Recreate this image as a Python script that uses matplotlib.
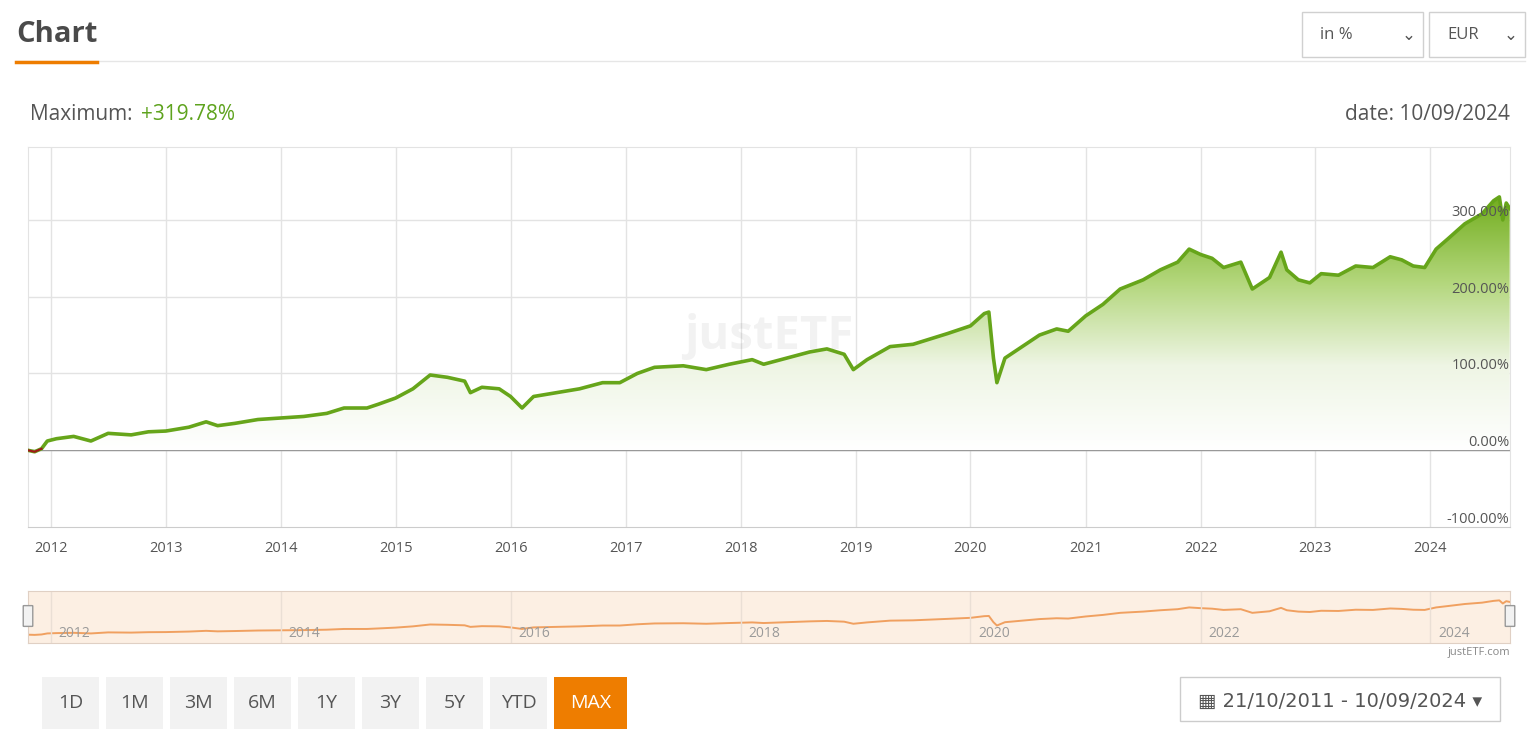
import numpy as np
import matplotlib.pyplot as plt
from matplotlib.patches import Rectangle, FancyBboxPatch
from matplotlib.colors import LinearSegmentedColormap
import matplotlib.dates as mdates
import datetime as dt

plt.rcParams['font.family'] = ['Open Sans', 'DejaVu Sans']

# performance in % (decimal year, value)
years = [2011.80, 2011.86, 2011.92, 2011.97, 2012.05, 2012.2, 2012.35, 2012.5, 2012.7, 2012.85,
         2013.0, 2013.2, 2013.35, 2013.45, 2013.6, 2013.8, 2014.0, 2014.2, 2014.4, 2014.55,
         2014.75, 2014.85, 2015.0, 2015.15, 2015.3, 2015.45, 2015.6, 2015.65, 2015.75, 2015.9,
         2016.0, 2016.1, 2016.2, 2016.4, 2016.6, 2016.8, 2016.95, 2017.1, 2017.25, 2017.5,
         2017.7, 2017.9, 2018.1, 2018.2, 2018.4, 2018.6, 2018.75, 2018.9, 2018.98, 2019.1,
         2019.3, 2019.5, 2019.65, 2019.8, 2020.0, 2020.12, 2020.16, 2020.2, 2020.23, 2020.3,
         2020.45, 2020.6, 2020.75, 2020.85, 2021.0, 2021.15, 2021.3, 2021.5, 2021.65, 2021.8,
         2021.9, 2022.0, 2022.1, 2022.2, 2022.35, 2022.45, 2022.6, 2022.7, 2022.75, 2022.85,
         2022.95, 2023.05, 2023.2, 2023.35, 2023.5, 2023.65, 2023.75, 2023.85, 2023.95, 2024.05,
         2024.15, 2024.3, 2024.45, 2024.55, 2024.6, 2024.63, 2024.66, 2024.69]
perf = [0, -2, 2, 12, 15, 18, 12, 22, 20, 24,
        25, 30, 37, 32, 35, 40, 42, 44, 48, 55,
        55, 60, 68, 80, 98, 95, 90, 75, 82, 80,
        70, 55, 70, 75, 80, 88, 88, 100, 108, 110,
        105, 112, 118, 112, 120, 128, 132, 125, 105, 118,
        135, 138, 145, 152, 162, 178, 180, 120, 88, 120,
        135, 150, 158, 155, 175, 190, 210, 222, 235, 245,
        262, 255, 250, 238, 245, 210, 225, 258, 235, 222,
        218, 230, 228, 240, 238, 252, 248, 240, 238, 262,
        275, 295, 308, 325, 330, 300, 322, 315]

nav_ticks = [2012, 2014, 2016, 2018, 2020, 2022, 2024]
main_ticks = list(range(2012, 2025))
y_ticks = [-100, 0, 100, 200, 300]

W, H = 1536, 750
fig = plt.figure(figsize=(W / 100, H / 100), dpi=100)
fig.patch.set_facecolor('white')

def fx(x):
    return x / W

def fy(y):
    return 1 - y / H

grey = '#555555'
orange = '#ee7d00'
green_line = '#66a51a'

# header
fig.text(fx(16), fy(34), 'Chart', fontsize=21, fontweight='bold', color='#4a4a4a', va='center')
fig.add_artist(plt.Line2D([fx(16), fx(1525)], [fy(61), fy(61)], color='#e6e6e6', lw=1))
fig.add_artist(plt.Line2D([fx(16), fx(97)], [fy(62), fy(62)], color=orange, lw=2.5))
for x0, x1, lab in [(1302, 1423, 'in %'), (1429, 1525, 'EUR')]:
    fig.add_artist(Rectangle((fx(x0), fy(57)), fx(x1 - x0), fy(12) - fy(57), fill=False,
                             ec='#d0d0d0', lw=1, transform=fig.transFigure))
    fig.text(fx(x0 + 18), fy(35), lab, fontsize=12, color=grey, va='center')
    fig.text(fx(x1 - 14), fy(35), '⌄', fontsize=12, color=grey, va='center', ha='center',
             family=['DejaVu Sans'])

fig.text(fx(30), fy(115), 'Maximum:', fontsize=15, color=grey, va='center')
fig.text(fx(141), fy(115), '+319.78%', fontsize=15, color='#5ea31e', va='center')
fig.text(fx(1510), fy(115), 'date: 10/09/2024', fontsize=15, color=grey, va='center', ha='right')

def to_date(y):
    yr = int(y)
    return dt.datetime(yr, 1, 1) + dt.timedelta(days=(y - yr) * 365.25)

dates = [to_date(y) for y in years]
xd = mdates.date2num(dates)
x_lo = mdates.date2num(dt.datetime(2011, 10, 21))
x_hi = mdates.date2num(dt.datetime(2024, 9, 10))

# main chart
ax = fig.add_axes([fx(28), fy(527), fx(1510 - 28), fy(147) - fy(527)])
ax.set_xlim(x_lo, x_hi)
ax.set_ylim(-100, 395)
for t in main_ticks:
    ax.axvline(mdates.date2num(dt.datetime(t, 1, 1)), color='#e3e3e3', lw=1, zorder=0)
for v in y_ticks[1:]:
    ax.axhline(v, color='#e3e3e3', lw=1, zorder=0)
ax.axhline(0, color='#999999', lw=1, zorder=1)

# gradient fill under the curve
grad = np.linspace(0, 1, 256).reshape(-1, 1)
cmap = LinearSegmentedColormap.from_list('g', ['#ffffff', '#eef5e4', '#b2d67a', '#72ad1e'])
img = ax.imshow(grad, aspect='auto', cmap=cmap, origin='lower',
                extent=[x_lo, x_hi, 0, 330], zorder=1)
poly = ax.fill_between(xd, perf, 0, color='none')
img.set_clip_path(poly.get_paths()[0], transform=ax.transData)
ax.plot(xd, perf, color=green_line, lw=2.6, zorder=3)
ax.plot(xd[:3], perf[:3], color='#a01818', lw=1.5, zorder=4)

ax.text(0.5, 0.5, 'justETF', transform=ax.transAxes, fontsize=34, color='#000000', alpha=0.05,
        ha='center', va='center', fontweight='bold')

for v in y_ticks:
    ax.text(x_hi - 2, v + 10, f'{v:.2f}%', ha='right', va='center', fontsize=10.5, color=grey, zorder=5)

ax.set_yticks([])
ax.set_xticks([mdates.date2num(dt.datetime(t, 1, 1)) for t in main_ticks])
ax.set_xticklabels([str(t) for t in main_ticks], fontsize=10.5, color=grey)
ax.tick_params(axis='x', length=0, pad=10)
for s in ['top', 'right', 'left']:
    ax.spines[s].set_color('#e3e3e3')
ax.spines['bottom'].set_color('#cccccc')

# navigator
nav = fig.add_axes([fx(28), fy(643), fx(1510 - 28), fy(591) - fy(643)])
nav.set_facecolor('#fcefe3')
nav.set_xlim(x_lo, x_hi)
nav.set_ylim(-80, 420)
nav.plot(xd, perf, color='#f0a060', lw=1.4)
for t in nav_ticks:
    xt = mdates.date2num(dt.datetime(t, 1, 1))
    nav.axvline(xt, color='#eadfd5', lw=1)
    nav.text(xt + 25, -60, str(t), fontsize=10, color='#9a9a9a', va='bottom')
nav.set_xticks([])
nav.set_yticks([])
for s in nav.spines.values():
    s.set_color('#e0d0c4')
for hx in [28, 1510]:
    fig.add_artist(FancyBboxPatch((fx(hx - 4), fy(626)), fx(8), fy(606) - fy(626),
                                  boxstyle='round,pad=0.0005', fc='#f2f2f2', ec='#999999', lw=1,
                                  transform=fig.transFigure))
fig.text(fx(1510), fy(653), 'justETF.com', fontsize=8, color='#888888', ha='right', va='center')

# range buttons
labels = ['1D', '1M', '3M', '6M', '1Y', '3Y', '5Y', 'YTD', 'MAX']
bx = 42
for lab in labels:
    active = lab == 'MAX'
    bw = 73 if active else 57
    fig.add_artist(Rectangle((fx(bx), fy(729)), fx(bw), fy(677) - fy(729),
                             fc=orange if active else '#f2f2f2', ec='none',
                             transform=fig.transFigure))
    fig.text(fx(bx + bw / 2), fy(703), lab, fontsize=14, color='white' if active else grey,
             ha='center', va='center')
    bx += bw + 7

fig.add_artist(Rectangle((fx(1180), fy(721)), fx(320), fy(677) - fy(721), fill=False,
                         ec='#cccccc', lw=1, transform=fig.transFigure))
fig.text(fx(1340), fy(701), '\u25A6 21/10/2011 - 10/09/2024 \u25BE', fontsize=14, color=grey,
         ha='center', va='center', family=['DejaVu Sans'])

fig.savefig('out.png', dpi=100)
